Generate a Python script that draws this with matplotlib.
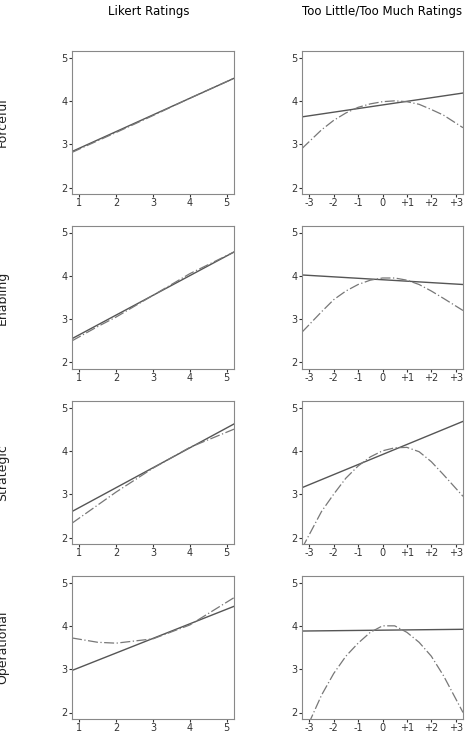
import numpy as np
import matplotlib
matplotlib.use("Agg")
import matplotlib.pyplot as plt

rows = ["Forceful", "Enabling", "Strategic", "Operational"]

# Likert panels: solid linear fit endpoints, dash-dot curve points
lik_x_ends = [0.8, 5.2]
lik_solid = [[2.83, 4.52], [2.55, 4.55], [2.60, 4.62], [2.97, 4.45]]
lik_curve_x = [0.8, 1.5, 2, 3, 4, 5.2]
lik_curve = [[2.81, 3.08, 3.27, 3.66, 4.06, 4.52],
             [2.50, 2.83, 3.05, 3.55, 4.05, 4.55],
             [2.33, 2.75, 3.05, 3.60, 4.08, 4.50],
             [3.72, 3.62, 3.60, 3.70, 4.02, 4.65]]

# Too little / too much panels
tm_x_ends = [-3.3, 3.3]
tm_solid = [[3.63, 4.18], [4.02, 3.80], [3.15, 4.68], [3.88, 3.92]]
tm_curve_x = [[-3.3, -2.5, -2, -1.5, -1, -0.5, 0, 0.5, 1, 1.5, 2, 2.5, 3.3]] * 4
tm_curve = [[2.90, 3.33, 3.55, 3.72, 3.85, 3.93, 3.98, 4.00, 3.98, 3.92, 3.80, 3.67, 3.38],
            [2.70, 3.17, 3.45, 3.65, 3.80, 3.90, 3.95, 3.95, 3.90, 3.80, 3.65, 3.48, 3.20],
            [1.75, 2.60, 3.00, 3.37, 3.65, 3.86, 4.00, 4.07, 4.08, 3.98, 3.75, 3.45, 2.95],
            [1.40, 2.40, 2.90, 3.30, 3.60, 3.85, 4.00, 4.00, 3.85, 3.62, 3.30, 2.85, 2.00]]

gray = "#555555"
fig = plt.figure(figsize=(4.74, 7.41), dpi=100)
W, H = 474, 741
tops = [51, 226, 401, 576]
bots = [194, 369, 544, 719]
cols = [(72, 234), (302, 463)]

def style(ax):
    for s in ax.spines.values():
        s.set_color("#888888")
        s.set_linewidth(0.8)
    ax.tick_params(labelsize=7, length=2, colors="#333333", pad=1)
    ax.set_ylim(1.85, 5.15)
    ax.set_yticks([2, 3, 4, 5])

for i in range(4):
    for j, (x0, x1) in enumerate(cols):
        ax = fig.add_axes([x0 / W, 1 - bots[i] / H, (x1 - x0) / W, (bots[i] - tops[i]) / H])
        style(ax)
        if j == 0:
            ax.plot(lik_x_ends, lik_solid[i], color=gray, lw=1)
            ax.plot(lik_curve_x, lik_curve[i], color="#777777", lw=0.9, ls=(0, (8, 2, 1, 2)))
            ax.set_xlim(0.8, 5.2)
            ax.set_xticks([1, 2, 3, 4, 5])
            ax.set_ylabel(rows[i], fontsize=9, labelpad=38, color="#222222")
        else:
            ax.plot(tm_x_ends, tm_solid[i], color=gray, lw=1)
            ax.plot(tm_curve_x[i], tm_curve[i], color="#777777", lw=0.9, ls=(0, (8, 2, 1, 2)))
            ax.set_xlim(-3.3, 3.3)
            ax.set_xticks([-3, -2, -1, 0, 1, 2, 3])
            ax.set_xticklabels(["-3", "-2", "-1", "0", "+1", "+2", "+3"])

fig.text(149 / W, 1 - 12 / H, "Likert Ratings", ha="center", va="center", fontsize=8.5)
fig.text(382 / W, 1 - 12 / H, "Too Little/Too Much Ratings", ha="center", va="center", fontsize=8.5)
fig.savefig("out.png", dpi=100)
